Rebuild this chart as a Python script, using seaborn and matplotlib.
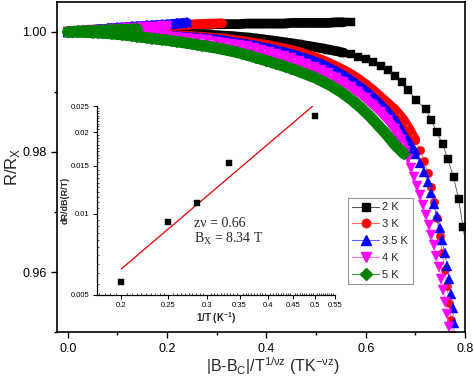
import matplotlib
matplotlib.use('Agg')
import matplotlib.pyplot as plt
import matplotlib.ticker as ticker
import seaborn as sns

# main panel: R/Rx vs scaled field, two branches per temperature
x2_lo = [0.0, 0.04, 0.08, 0.12, 0.16, 0.20, 0.24, 0.255, 0.27, 0.285, 0.30, 0.315, 0.33, 0.345,
         0.36, 0.375, 0.39, 0.405, 0.42, 0.435, 0.45, 0.465, 0.48, 0.495, 0.51, 0.525, 0.54,
         0.555, 0.57, 0.585, 0.60, 0.615, 0.63, 0.645, 0.66, 0.673, 0.685, 0.702, 0.721, 0.732,
         0.743, 0.755, 0.765, 0.777, 0.787, 0.796, 0.81]
y2_lo = [1.0, 1.0, 0.99997, 0.99992, 0.99986, 0.99978, 0.99968, 0.99963, 0.99958, 0.99952,
         0.99945, 0.99938, 0.9993, 0.9992, 0.99908, 0.99895, 0.9988, 0.99864, 0.99847, 0.9983,
         0.99812, 0.99793, 0.99773, 0.99752, 0.9973, 0.99707, 0.99682, 0.99655, 0.99625, 0.9959,
         0.9955, 0.995, 0.9944, 0.9936, 0.9926, 0.9917, 0.9903, 0.9886, 0.9871, 0.9853, 0.9833,
         0.9813, 0.9789, 0.9758, 0.9722, 0.9675, 0.9600]
x2_up = [0.0, 0.015, 0.03, 0.045, 0.06, 0.075, 0.09, 0.105, 0.12, 0.135, 0.15, 0.165, 0.18,
         0.195, 0.21, 0.225, 0.24, 0.255, 0.27, 0.285, 0.30, 0.315, 0.33, 0.345, 0.36, 0.375,
         0.39, 0.405, 0.42, 0.435, 0.45, 0.465, 0.48, 0.495, 0.51, 0.525, 0.54, 0.555, 0.57]
y2_up = [1.0, 1.0001, 1.0002, 1.0003, 1.0004, 1.0005, 1.0006, 1.0006, 1.0007, 1.0008, 1.0008,
         1.0009, 1.0009, 1.001, 1.001, 1.0011, 1.0011, 1.0012, 1.0012, 1.0012, 1.0013, 1.0013,
         1.0013, 1.0013, 1.0014, 1.0014, 1.0014, 1.0014, 1.0014, 1.0014, 1.0015, 1.0015, 1.0015,
         1.0015, 1.0015, 1.0015, 1.0016, 1.0016, 1.0016]

x_mid = [0.0, 0.02, 0.04, 0.06, 0.08, 0.10, 0.12, 0.14, 0.16, 0.18, 0.20, 0.22, 0.24, 0.26,
         0.28, 0.30, 0.315, 0.33, 0.345, 0.36, 0.375, 0.39, 0.405, 0.42, 0.435, 0.45, 0.465,
         0.48, 0.495, 0.51, 0.525, 0.54, 0.555, 0.57, 0.585, 0.60, 0.615, 0.63, 0.645, 0.66]

x3_lo = x_mid + [0.676, 0.689, 0.70, 0.71, 0.718, 0.725, 0.731, 0.737, 0.743, 0.749, 0.754,
                 0.759, 0.764, 0.768, 0.772, 0.775]
y3_lo = [1.0, 0.99999, 0.99997, 0.99994, 0.99991, 0.99987, 0.99982, 0.99976, 0.9997, 0.99963,
         0.99955, 0.99946, 0.99936, 0.99925, 0.99913, 0.999, 0.9989, 0.9987, 0.9986, 0.9984,
         0.9982, 0.998, 0.9978, 0.9975, 0.9973, 0.997, 0.9967, 0.9963, 0.9959, 0.9954, 0.9949,
         0.9943, 0.9937, 0.993, 0.9922, 0.9913, 0.9903, 0.9892, 0.9881, 0.987,
         0.9854, 0.9836, 0.982, 0.9803, 0.9785, 0.9765, 0.9742, 0.9717, 0.969, 0.966, 0.9632,
         0.9604, 0.9576, 0.9548, 0.952, 0.9495]
x3_up = [0.0, 0.01, 0.02, 0.03, 0.04, 0.05, 0.06, 0.07, 0.08, 0.09, 0.10, 0.11, 0.12, 0.13,
         0.14, 0.15, 0.16, 0.17, 0.18, 0.19, 0.20, 0.21, 0.22, 0.23, 0.24, 0.25, 0.26, 0.27,
         0.28, 0.29, 0.30, 0.31]
y3_up = [1.0, 1.00005, 1.0001, 1.00015, 1.0002, 1.00025, 1.0003, 1.00035, 1.0004, 1.00045,
         1.0005, 1.00055, 1.0006, 1.00065, 1.0007, 1.00075, 1.0008, 1.00085, 1.0009, 1.00095,
         1.001, 1.00105, 1.0011, 1.00115, 1.0012, 1.00125, 1.0013, 1.00133, 1.00136, 1.00139,
         1.00142, 1.00145]

x35_lo = x_mid + [0.676, 0.689, 0.70, 0.71, 0.718, 0.725, 0.731, 0.737, 0.743, 0.749, 0.754,
                  0.759, 0.764, 0.768, 0.772, 0.775, 0.777, 0.779]
y35_lo = [1.0, 0.99998, 0.99996, 0.99993, 0.99989, 0.99984, 0.99978, 0.99971, 0.99963, 0.99954,
          0.99944, 0.99933, 0.99921, 0.99908, 0.99894, 0.9988, 0.9986, 0.9984, 0.9982, 0.998,
          0.9978, 0.9975, 0.9973, 0.997, 0.9967, 0.9964, 0.996, 0.9956, 0.9952, 0.9947, 0.9941,
          0.9935, 0.9928, 0.992, 0.9911, 0.9902, 0.9891, 0.9879, 0.9866, 0.985,
          0.9827, 0.9811, 0.9796, 0.9781, 0.9767, 0.975, 0.9732, 0.9713, 0.9694, 0.9673, 0.9653,
          0.9632, 0.961, 0.9588, 0.9564, 0.954, 0.9516, 0.949]
x35_up = [0.0, 0.01, 0.02, 0.03, 0.04, 0.05, 0.06, 0.07, 0.08, 0.09, 0.10, 0.11, 0.12, 0.13,
          0.14, 0.15, 0.16, 0.17, 0.18, 0.19, 0.20, 0.21, 0.22, 0.23, 0.24]
y35_up = [1.0, 1.00008, 1.00016, 1.00024, 1.00032, 1.0004, 1.00047, 1.00054, 1.00061, 1.00068,
          1.00075, 1.00081, 1.00087, 1.00093, 1.00099, 1.00105, 1.0011, 1.00115, 1.0012, 1.00125,
          1.0013, 1.00138, 1.00146, 1.00153, 1.0016]

x4_lo = x_mid[:-1] + [0.66, 0.672, 0.68, 0.686, 0.692, 0.698, 0.704, 0.71, 0.716, 0.722, 0.727,
                      0.732, 0.737, 0.742, 0.747, 0.752, 0.756, 0.76, 0.764, 0.768, 0.771]
y4_lo = [1.0, 0.99998, 0.99995, 0.99991, 0.99986, 0.9998, 0.99973, 0.99965, 0.99956, 0.99945,
         0.99932, 0.99918, 0.99903, 0.99887, 0.9987, 0.9984, 0.9982, 0.998, 0.9978, 0.9976,
         0.9973, 0.997, 0.9967, 0.9964, 0.996, 0.9956, 0.9952, 0.9947, 0.9942, 0.9937, 0.9931,
         0.9924, 0.9917, 0.9909, 0.99, 0.989, 0.9879, 0.9867, 0.9854, 0.9838,
         0.982, 0.9802, 0.9788, 0.9774, 0.9759, 0.9744, 0.9728, 0.9712, 0.9695, 0.9679, 0.9662,
         0.9645, 0.9627, 0.9609, 0.9589, 0.957, 0.955, 0.953, 0.9508, 0.9485]
x4_up = [0.0, 0.01, 0.02, 0.03, 0.04, 0.05, 0.06, 0.07, 0.08, 0.09, 0.10, 0.11, 0.12, 0.13,
         0.14, 0.15, 0.16, 0.17, 0.18, 0.19, 0.20]
y4_up = [1.0, 1.00005, 1.0001, 1.00015, 1.0002, 1.00025, 1.0003, 1.00035, 1.0004, 1.00045,
         1.0005, 1.00055, 1.0006, 1.00065, 1.0007, 1.00075, 1.0008, 1.00085, 1.0009, 1.00095,
         1.001]

x5_lo = [0.0, 0.01, 0.02, 0.03, 0.04, 0.05, 0.06, 0.07, 0.08, 0.09, 0.10, 0.11, 0.12, 0.13,
         0.14, 0.15, 0.16, 0.17, 0.18, 0.19, 0.20, 0.21, 0.22, 0.23, 0.24, 0.25, 0.26, 0.27,
         0.28, 0.29, 0.30, 0.31, 0.32, 0.33, 0.34, 0.35, 0.36, 0.37, 0.38, 0.39, 0.40, 0.41,
         0.42, 0.43, 0.44, 0.45, 0.46, 0.47, 0.48, 0.49, 0.50, 0.51, 0.52, 0.53, 0.54, 0.55,
         0.56, 0.57, 0.58, 0.59, 0.60, 0.61, 0.62, 0.63, 0.64, 0.65, 0.66, 0.67, 0.677]
y5_lo = [1.0, 0.99999, 0.99997, 0.99995, 0.99992, 0.99989, 0.99985, 0.9998, 0.99974, 0.99967,
         0.9996, 0.99951, 0.99942, 0.99932, 0.99921, 0.9991, 0.999, 0.9989, 0.9988, 0.9987,
         0.9986, 0.99848, 0.99836, 0.99824, 0.99812, 0.998, 0.99786, 0.99772, 0.99758, 0.99744,
         0.9973, 0.99713, 0.99696, 0.99678, 0.99659, 0.9964, 0.99616, 0.99592, 0.99568, 0.99544,
         0.9952, 0.99494, 0.99468, 0.99442, 0.99416, 0.9939, 0.99358, 0.99326, 0.99294, 0.99262,
         0.9923, 0.99188, 0.99146, 0.99104, 0.9905, 0.99, 0.9894, 0.9888, 0.9881, 0.9874,
         0.9866, 0.9858, 0.9849, 0.984, 0.9831, 0.9821, 0.9811, 0.9803, 0.9797]
x5_up = [0.0, 0.01, 0.02, 0.03, 0.04, 0.05, 0.06, 0.07, 0.08, 0.09, 0.10, 0.11, 0.12, 0.13, 0.14]
y5_up = [1.0, 1.00004, 1.00008, 1.00012, 1.00016, 1.0002, 1.00023, 1.00026, 1.00029, 1.00032,
         1.00035, 1.00038, 1.0004, 1.00042, 1.00044]

labels = ['2 K', '3 K', '3.5 K', '4 K', '5 K']

# inset: slope vs 1/T
inv_T = [0.2, 0.25, 0.2857, 0.3333, 0.5]
slope = [0.00557, 0.00929, 0.01097, 0.01539, 0.0230]
fit_x = [0.2, 0.495]
fit_y = [0.00624, 0.0250]


def main():
    sns.set_style('ticks')
    plt.rcParams['font.family'] = ['Liberation Sans', 'DejaVu Sans']
    plt.rcParams['axes.edgecolor'] = 'black'
    plt.rcParams['xtick.color'] = 'black'
    plt.rcParams['ytick.color'] = 'black'

    fig = plt.figure(figsize=(4.74, 3.8), dpi=100)
    ax = fig.add_axes([0.120, 0.126, 0.861, 0.869])

    # marker, size, colour, line colour, where the dense part ends, band width
    series = [
        (x2_lo, y2_lo, x2_up, y2_up, 's', 5.5, 'black', '#555555', 0.56, 7.0),
        (x3_lo, y3_lo, x3_up, y3_up, 'o', 6.0, '#ff0000', '#ff6060', 0.70, 7.0),
        (x35_lo, y35_lo, x35_up, y35_up, '^', 6.5, '#0000ff', '#6060ff', 0.70, 6.5),
        (x4_lo, y4_lo, x4_up, y4_up, 'v', 6.5, '#ff00ff', '#ff70ff', 0.68, 6.5),
        (x5_lo, y5_lo, x5_up, y5_up, 'D', 6.0, '#008000', '#40a040', 0.70, 8.0),
    ]
    handles = []
    for (xl, yl, xu, yu, m, ms, c, lc, xb, bw), lab in zip(series, labels):
        for xs, ys in [(xu, yu), (xl, yl)]:
            bx = [a for a in xs if a <= xb]
            by = ys[:len(bx)]
            # densely measured stretch reads as a solid band
            sns.lineplot(x=bx, y=by, ax=ax, sort=False, estimator=None, color=c,
                         linewidth=bw, solid_capstyle='round')
            sns.lineplot(x=xs, y=ys, ax=ax, sort=False, estimator=None, color=lc,
                         linewidth=0.6, marker=m, markersize=ms, markerfacecolor=c,
                         markeredgecolor=c, markeredgewidth=0.3)
        handles.append(plt.Line2D([], [], color=lc, linewidth=0.8, marker=m, markersize=ms,
                                  markerfacecolor=c, markeredgecolor=c, label=lab))

    ax.set_xlim(-0.022, 0.8)
    ax.set_ylim(0.95, 1.005)
    ax.xaxis.set_major_locator(ticker.MultipleLocator(0.2))
    ax.xaxis.set_minor_locator(ticker.MultipleLocator(0.1))
    ax.yaxis.set_major_locator(ticker.FixedLocator([0.96, 0.98, 1.00]))
    ax.yaxis.set_minor_locator(ticker.FixedLocator([0.95, 0.97, 0.99]))
    ax.xaxis.set_major_formatter(ticker.FormatStrFormatter('%.1f'))
    ax.yaxis.set_major_formatter(ticker.FormatStrFormatter('%.2f'))
    ax.tick_params(which='major', direction='out', length=4, width=1, labelsize=9)
    ax.tick_params(which='minor', direction='out', length=2.5, width=1)
    for s in ax.spines.values():
        s.set_linewidth(1.2)
    ax.set_xlabel('|B-B$_\\mathregular{C}$|/T$^\\mathregular{1/νz}$ (TK$^\\mathregular{-νz}$)',
                  fontsize=11.5)
    ax.set_ylabel('R/R$_\\mathregular{X}$', fontsize=12)
    ax.xaxis.set_label_coords(0.53, -0.07)
    ax.yaxis.set_label_coords(-0.085, 0.5)

    leg = ax.legend(handles=handles, loc='upper left', bbox_to_anchor=(0.713, 0.406),
                    borderaxespad=0, fontsize=8, handlelength=2.4, labelspacing=0.62,
                    borderpad=0.4, handletextpad=0.3, fancybox=False, framealpha=1)
    leg.get_frame().set_edgecolor('#999999')
    leg.get_frame().set_linewidth(0.8)

    # inset
    ax_in = fig.add_axes([0.204, 0.224, 0.503, 0.497])
    ax_in.patch.set_alpha(0)
    sns.scatterplot(x=inv_T, y=slope, ax=ax_in, marker='s', s=22, color='black',
                    edgecolor='black', linewidth=0.3, zorder=3)
    sns.lineplot(x=fit_x, y=fit_y, ax=ax_in, color='#e00000', linewidth=0.9)
    ax_in.set_xscale('log')
    ax_in.set_yscale('log')
    ax_in.set_xlim(0.178, 0.55)
    ax_in.set_ylim(0.005, 0.025)
    xt = [0.2, 0.25, 0.3, 0.35, 0.4, 0.45, 0.5, 0.55]
    yt = [0.005, 0.01, 0.015, 0.02, 0.025]
    ax_in.xaxis.set_major_locator(ticker.FixedLocator(xt))
    ax_in.xaxis.set_major_formatter(ticker.FixedFormatter([str(v) for v in xt]))
    ax_in.yaxis.set_major_locator(ticker.FixedLocator(yt))
    ax_in.yaxis.set_major_formatter(ticker.FixedFormatter([str(v) for v in yt]))
    ax_in.xaxis.set_minor_locator(ticker.MultipleLocator(0.005))
    ax_in.yaxis.set_minor_locator(ticker.MultipleLocator(0.0005))
    ax_in.xaxis.set_minor_formatter(ticker.NullFormatter())
    ax_in.yaxis.set_minor_formatter(ticker.NullFormatter())
    ax_in.tick_params(which='major', direction='out', length=3, width=0.7, labelsize=5.5, pad=2)
    ax_in.tick_params(which='minor', direction='in', length=1.5, width=0.5)
    ax_in.spines['top'].set_visible(False)
    ax_in.spines['right'].set_visible(False)
    ax_in.spines['left'].set_linewidth(0.9)
    ax_in.spines['bottom'].set_linewidth(0.9)
    ax_in.set_xlabel('1/T (K$^\\mathregular{-1}$)', fontsize=7, fontweight='bold', labelpad=1)
    ax_in.set_ylabel('dR/dB(R/T)', fontsize=6.5, fontweight='bold', labelpad=1)
    ax_in.text(0.41, 0.36, 'zν = 0.66', transform=ax_in.transAxes, fontsize=10,
               family=['Liberation Serif', 'DejaVu Serif'])
    ax_in.text(0.41, 0.275, 'B$_\\mathregular{X}$ = 8.34 T', transform=ax_in.transAxes,
               fontsize=10, family=['Liberation Serif', 'DejaVu Serif'])

    fig.savefig('out.png', dpi=100)


if __name__ == '__main__':
    main()
